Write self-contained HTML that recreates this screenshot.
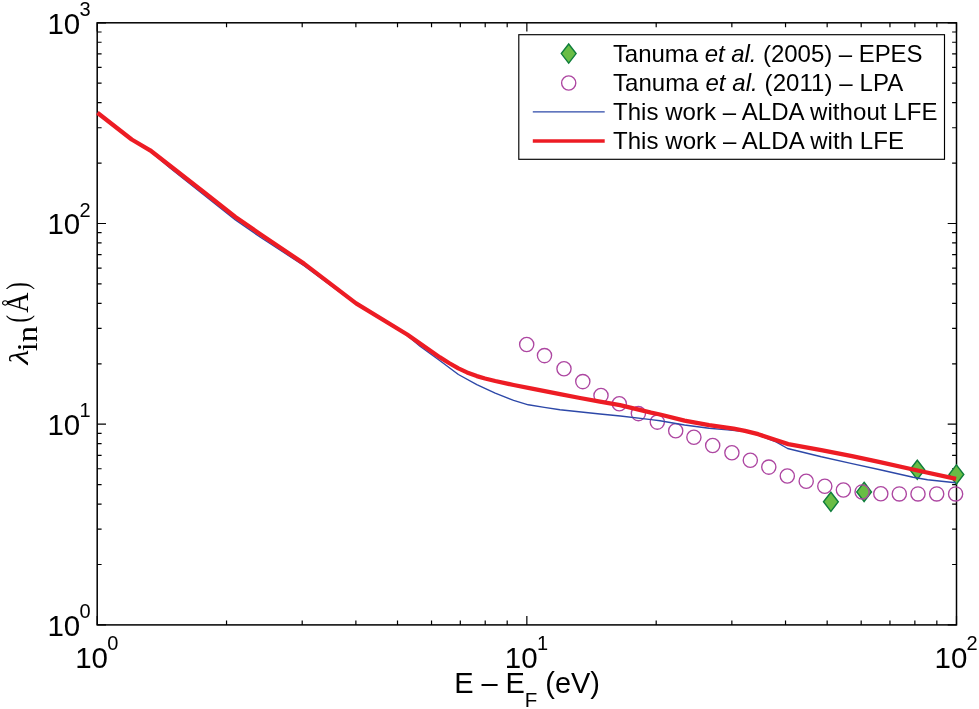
<!DOCTYPE html>
<html lang="en"><head><meta charset="utf-8"><title>Inelastic mean free path</title>
<style>html,body{margin:0;padding:0;background:#fff;}body{width:979px;height:709px;overflow:hidden;}svg{display:block;}text{font-family:"Liberation Sans",Arial,Helvetica,sans-serif;fill:#000;}.ser{font-family:"Liberation Serif","DejaVu Serif",serif;}</style></head><body>
<svg width="979" height="709" viewBox="0 0 979 709">
<rect width="979" height="709" fill="#fff"/>
<path d="M97.20 624.90v-8.8M97.20 22.80v8.8M226.54 624.90v-4.4M226.54 22.80v4.4M302.20 624.90v-4.4M302.20 22.80v4.4M355.88 624.90v-4.4M355.88 22.80v4.4M397.51 624.90v-4.4M397.51 22.80v4.4M431.53 624.90v-4.4M431.53 22.80v4.4M460.30 624.90v-4.4M460.30 22.80v4.4M485.21 624.90v-4.4M485.21 22.80v4.4M507.19 624.90v-4.4M507.19 22.80v4.4M526.85 624.90v-8.8M526.85 22.80v8.8M656.19 624.90v-4.4M656.19 22.80v4.4M731.85 624.90v-4.4M731.85 22.80v4.4M785.53 624.90v-4.4M785.53 22.80v4.4M827.16 624.90v-4.4M827.16 22.80v4.4M861.18 624.90v-4.4M861.18 22.80v4.4M889.95 624.90v-4.4M889.95 22.80v4.4M914.86 624.90v-4.4M914.86 22.80v4.4M936.84 624.90v-4.4M936.84 22.80v4.4M956.50 624.90v-8.8M956.50 22.80v8.8M97.20 624.90h8.8M956.50 624.90h-8.8M97.20 564.48h4.4M956.50 564.48h-4.4M97.20 529.14h4.4M956.50 529.14h-4.4M97.20 504.07h4.4M956.50 504.07h-4.4M97.20 484.62h4.4M956.50 484.62h-4.4M97.20 468.73h4.4M956.50 468.73h-4.4M97.20 455.29h4.4M956.50 455.29h-4.4M97.20 443.65h4.4M956.50 443.65h-4.4M97.20 433.38h4.4M956.50 433.38h-4.4M97.20 424.20h8.8M956.50 424.20h-8.8M97.20 363.78h4.4M956.50 363.78h-4.4M97.20 328.44h4.4M956.50 328.44h-4.4M97.20 303.37h4.4M956.50 303.37h-4.4M97.20 283.92h4.4M956.50 283.92h-4.4M97.20 268.03h4.4M956.50 268.03h-4.4M97.20 254.59h4.4M956.50 254.59h-4.4M97.20 242.95h4.4M956.50 242.95h-4.4M97.20 232.68h4.4M956.50 232.68h-4.4M97.20 223.50h8.8M956.50 223.50h-8.8M97.20 163.08h4.4M956.50 163.08h-4.4M97.20 127.74h4.4M956.50 127.74h-4.4M97.20 102.67h4.4M956.50 102.67h-4.4M97.20 83.22h4.4M956.50 83.22h-4.4M97.20 67.33h4.4M956.50 67.33h-4.4M97.20 53.89h4.4M956.50 53.89h-4.4M97.20 42.25h4.4M956.50 42.25h-4.4M97.20 31.98h4.4M956.50 31.98h-4.4M97.20 22.80h8.8M956.50 22.80h-8.8" stroke="#000" stroke-width="1.2" fill="none"/>
<rect x="97.2" y="22.8" width="859.30" height="602.10" fill="none" stroke="#000" stroke-width="1.5"/>
<path d="M830.9 492.2L838.3 501.8L830.9 511.4L823.5 501.8Z" fill="#69bd45" stroke="#0f7d3c" stroke-width="1.4" stroke-linejoin="miter"/>
<path d="M864.1 482.3L871.5 491.9L864.1 501.5L856.7 491.9Z" fill="#69bd45" stroke="#0f7d3c" stroke-width="1.4" stroke-linejoin="miter"/>
<path d="M917.3 460.2L924.7 469.8L917.3 479.4L909.9 469.8Z" fill="#69bd45" stroke="#0f7d3c" stroke-width="1.4" stroke-linejoin="miter"/>
<path d="M956.4 464.9L963.8 474.5L956.4 484.1L949.0 474.5Z" fill="#69bd45" stroke="#0f7d3c" stroke-width="1.4" stroke-linejoin="miter"/>
<circle cx="526.7" cy="344.5" r="7.1" fill="none" stroke="#ad46a1" stroke-width="1.35"/>
<circle cx="544.5" cy="355.6" r="7.1" fill="none" stroke="#ad46a1" stroke-width="1.35"/>
<circle cx="564" cy="368.7" r="7.1" fill="none" stroke="#ad46a1" stroke-width="1.35"/>
<circle cx="582.8" cy="381.6" r="7.1" fill="none" stroke="#ad46a1" stroke-width="1.35"/>
<circle cx="601" cy="395.5" r="7.1" fill="none" stroke="#ad46a1" stroke-width="1.35"/>
<circle cx="619.3" cy="403.7" r="7.1" fill="none" stroke="#ad46a1" stroke-width="1.35"/>
<circle cx="638.4" cy="413.6" r="7.1" fill="none" stroke="#ad46a1" stroke-width="1.35"/>
<circle cx="657.3" cy="422.1" r="7.1" fill="none" stroke="#ad46a1" stroke-width="1.35"/>
<circle cx="675.7" cy="430.7" r="7.1" fill="none" stroke="#ad46a1" stroke-width="1.35"/>
<circle cx="693.9" cy="437.3" r="7.1" fill="none" stroke="#ad46a1" stroke-width="1.35"/>
<circle cx="712.7" cy="445.5" r="7.1" fill="none" stroke="#ad46a1" stroke-width="1.35"/>
<circle cx="731.9" cy="452.8" r="7.1" fill="none" stroke="#ad46a1" stroke-width="1.35"/>
<circle cx="750.3" cy="460.2" r="7.1" fill="none" stroke="#ad46a1" stroke-width="1.35"/>
<circle cx="768.8" cy="467.1" r="7.1" fill="none" stroke="#ad46a1" stroke-width="1.35"/>
<circle cx="787.3" cy="476" r="7.1" fill="none" stroke="#ad46a1" stroke-width="1.35"/>
<circle cx="806.2" cy="481.2" r="7.1" fill="none" stroke="#ad46a1" stroke-width="1.35"/>
<circle cx="824.8" cy="486.3" r="7.1" fill="none" stroke="#ad46a1" stroke-width="1.35"/>
<circle cx="843.4" cy="490" r="7.1" fill="none" stroke="#ad46a1" stroke-width="1.35"/>
<circle cx="862.1" cy="491.9" r="7.1" fill="none" stroke="#ad46a1" stroke-width="1.35"/>
<circle cx="880.8" cy="493.8" r="7.1" fill="none" stroke="#ad46a1" stroke-width="1.35"/>
<circle cx="899.3" cy="493.9" r="7.1" fill="none" stroke="#ad46a1" stroke-width="1.35"/>
<circle cx="918" cy="493.9" r="7.1" fill="none" stroke="#ad46a1" stroke-width="1.35"/>
<circle cx="936.7" cy="493.9" r="7.1" fill="none" stroke="#ad46a1" stroke-width="1.35"/>
<circle cx="955.6" cy="493.9" r="7.1" fill="none" stroke="#ad46a1" stroke-width="1.35"/>
<polyline points="97.4,112.7 131.7,139.5 150.1,151.3 170.0,168.0 202.7,194.0 235.4,219.9 260.0,237.0 304.0,265.6 356.1,304.2 407.2,335.4 420.0,346.2 440.0,360.8 458.4,374.5 476.8,384.6 495.2,393.2 513.6,400.3 528.3,404.8 544.3,407.4 560.0,409.8 600.0,414.0 620.4,416.0 651.1,419.6 660.0,420.7 684.5,425.0 709.1,428.3 727.5,429.9 745.0,431.6 758.2,435.0 770.0,439.5 776.0,441.8 787.6,448.5 821.3,456.8 852.0,463.6 880.0,469.7 913.1,477.3 927.5,479.8 955.6,482.7" fill="none" stroke="#2d48a8" stroke-width="1.4" stroke-linejoin="round"/>
<polyline points="97.4,112.7 131.7,139.5 150.1,150.3 170.0,165.8 202.7,191.2 235.4,217.0 260.0,234.0 304.0,263.6 356.1,303.4 407.2,334.5 440.0,357.4 449.0,363.0 458.4,368.4 467.0,372.4 476.8,376.1 485.0,378.5 495.2,381.0 513.6,385.0 532.0,388.7 560.0,394.2 580.0,398.0 600.0,401.7 620.0,405.2 651.1,412.7 660.0,414.5 684.5,420.7 709.1,425.2 733.6,428.7 745.0,430.8 758.2,434.2 775.0,439.8 788.2,444.1 821.3,450.1 852.0,456.2 880.0,462.1 913.1,469.5 956.1,478.8" fill="none" stroke="#ed1c24" stroke-width="4.3" stroke-linejoin="round"/>
<text x="47.45" y="635.70" font-size="29.5">10<tspan font-size="20" dy="-17.6" dx="-0.8">0</tspan></text>
<text x="47.45" y="435.00" font-size="29.5">10<tspan font-size="20" dy="-17.6" dx="-0.8">1</tspan></text>
<text x="47.45" y="234.30" font-size="29.5">10<tspan font-size="20" dy="-17.6" dx="-0.8">2</tspan></text>
<text x="47.45" y="33.60" font-size="29.5">10<tspan font-size="20" dy="-17.6" dx="-0.8">3</tspan></text>
<text x="75.20" y="667.50" font-size="29.5">10<tspan font-size="20" dy="-17.6" dx="-0.8">0</tspan></text>
<text x="504.85" y="667.50" font-size="29.5">10<tspan font-size="20" dy="-17.6" dx="-0.8">1</tspan></text>
<text x="934.50" y="667.50" font-size="29.5">10<tspan font-size="20" dy="-17.6" dx="-0.8">2</tspan></text>
<text x="454.3" y="692.5" font-size="29" textLength="145.6">E – E<tspan font-size="20.5" dy="14.4">F</tspan><tspan dy="-14.4"> (eV)</tspan></text>
<g transform="translate(27.5 365.4) rotate(-90)">
<text class="ser" transform="translate(0.83 0) scale(1.22 1)" font-size="28" font-style="italic">λ</text>
<text class="ser" transform="translate(14.12 9.9) scale(1.14 1)" font-size="28.4">in</text>
<text class="ser" transform="translate(42.82 0) scale(0.7 1)" font-size="32">(</text>
<text class="ser" transform="translate(52.73 0) scale(0.9 1)" font-size="31">Å</text>
<text class="ser" transform="translate(75.58 0) scale(0.7 1)" font-size="32">)</text>
</g>
<rect x="518.8" y="34.7" width="425.7" height="124.6" fill="#fff" stroke="#000" stroke-width="1.15"/>
<path d="M568.7 44.0L576.1 53.6L568.7 63.2L561.3 53.6Z" fill="#69bd45" stroke="#0f7d3c" stroke-width="1.4"/>
<circle cx="568.7" cy="83" r="7.1" fill="none" stroke="#ad46a1" stroke-width="1.35"/>
<path d="M532.8 111.8H604.7" stroke="#2d48a8" stroke-width="1.3"/>
<path d="M532.8 141H604.7" stroke="#ed1c24" stroke-width="3.6"/>
<text x="612.9" y="62.0" font-size="24" textLength="309.7">Tanuma <tspan font-style="italic">et al.</tspan> (2005) – EPES</text>
<text x="612.9" y="91.0" font-size="24" textLength="290.3">Tanuma <tspan font-style="italic">et al.</tspan> (2011) – LPA</text>
<text x="612.9" y="120.1" font-size="24" textLength="324.5">This work – ALDA without LFE</text>
<text x="612.9" y="149.2" font-size="24" textLength="291.1">This work – ALDA with LFE</text>
</svg></body></html>
